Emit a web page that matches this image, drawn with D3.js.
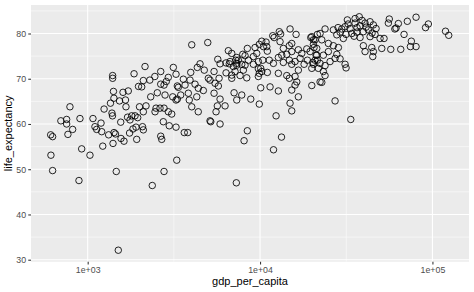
<!DOCTYPE html>
<html>
<head>
<meta charset="utf-8">
<script src="https://cdn.jsdelivr.net/npm/d3@7"></script>
<style>
  body { margin: 0; background: #fff; }
  svg { display: block; font-family: "Liberation Sans", Arial, sans-serif; }
</style>
</head>
<body>
<script>
'use strict';

// values, one entry per country-year
const gdpPerCapita = [
  610, 626, 612, 626, 699, 755, 755, 768, 789, 818,
  902, 923, 890, 1031, 1073, 1102, 1127, 1195, 1206, 1223,
  1245, 1323, 1356, 1383, 1393, 1396, 1396, 1411, 1420, 1403,
  1422, 1450, 1465, 1505, 1530, 1555, 1560, 1603, 1624, 1657,
  1668, 1720, 1703, 1760, 1750, 1800, 1831, 1858, 1882, 1907,
  1925, 1950, 1972, 1998, 2081, 2103,
  4015, 4973, 2151, 6548, 3139, 2653, 4486, 4326, 4746, 5685,
  5861, 6350, 6629, 7228, 7326, 2453, 2293, 2103, 3255, 2936,
  3589, 3962, 3925, 5409, 5012, 5127, 5784, 6350, 6853, 2653,
  2773, 3312, 3357, 3671, 4196, 4385, 4688, 5482, 5729, 2058,
  2535, 2810, 2321, 3115, 3255, 3312, 3466, 3836, 4293, 3884,
  5409, 5861, 7068, 7326, 2180, 2492, 2459, 2628, 2773, 2936,
  3073, 4015, 5652, 5556, 6266, 2103, 2746, 2973, 3255, 3633,
  3807, 5127, 5176, 5861, 2653, 2689, 2370, 2773, 3286, 7285,
  8440, 8077, 11970, 13320, 12385, 15270, 16680, 2858,
  14930, 16180, 12930, 11850, 12070, 13060, 19690, 20390, 21500, 10230,
  10840, 10450, 10940, 9898, 11025, 8440, 9355, 9570, 9144, 8185,
  7939, 7326, 7483, 6853, 13650, 14780, 15270, 15270, 14290, 13360,
  12770, 16680, 17460, 17070, 18670, 19510, 20570, 21130, 18820, 20230,
  21500, 18010, 15960, 15270, 14790, 13650, 11950, 11310, 10370, 9776,
  9144, 8554, 8185, 7832, 7326, 7000, 6699, 8000, 7161, 6853,
  7656, 8373, 9776, 10090, 10230, 9898, 9776, 11025, 12770, 14290,
  14790, 15960, 16680, 16330, 15960, 15270, 14930, 19960, 22300, 7832,
  8832, 9898, 10090, 11430, 12770, 13170, 4380,
  37640, 32100, 35580, 31130, 29790, 33280, 38040, 40660, 43470, 45430,
  47100, 42490, 39750, 36400, 34050, 31550, 29120, 27870, 26630, 23830,
  22300, 30430, 38040, 43470, 46470, 22810, 20850, 19960, 24900, 26630,
  28470, 20390, 21330, 39750, 44470, 45430, 40660, 50820, 49680, 45080,
  24900, 23300, 27870, 27240, 29120, 25480, 21330, 20850, 22300, 20390,
  23830, 21790, 19960, 31130, 31550, 23300, 23830, 22810, 27240, 33590,
  35580, 41210, 36540, 39070, 32410, 28360, 44640, 35110,
  56200, 55500, 63430, 61520, 60540, 71520, 80350, 94700, 91220, 119100,
  124300, 68460, 75460, 74500, 80350, 65500, 57310, 52400
];

const lifeExpectancy = [
  57.6, 57.2, 53.1, 49.7, 60.7, 61.0, 60.0, 57.7, 63.8, 58.8,
  61.2, 54.5, 47.5, 53.1, 61.2, 59.4, 58.8, 60.2, 58.3, 55.1,
  63.3, 57.6, 64.6, 62.4, 61.8, 70.7, 70.1, 67.2, 65.7, 55.7,
  58.1, 57.8, 49.5, 32.1, 65.1, 60.4, 56.8, 67.0, 56.2, 65.3,
  63.8, 67.3, 61.5, 60.9, 58.0, 61.8, 58.9, 71.1, 61.8, 59.3,
  56.6, 61.4, 68.3, 63.8, 59.4, 58.7,
  77.5, 78.0, 72.7, 76.2, 72.5, 71.6, 73.3, 72.5, 71.9, 74.3,
  73.3, 73.5, 73.3, 74.1, 73.4, 70.5, 69.7, 69.6, 71.0, 70.3,
  69.9, 71.4, 69.7, 71.6, 70.1, 69.7, 70.1, 71.3, 70.1, 68.8,
  68.6, 68.4, 68.1, 68.6, 68.8, 67.9, 67.4, 69.0, 68.4, 68.2,
  66.9, 66.4, 66.0, 66.0, 65.3, 65.5, 66.4, 66.8, 66.0, 65.3,
  66.8, 65.5, 66.9, 65.3, 64.0, 63.5, 62.7, 63.5, 63.5, 62.7,
  62.2, 63.8, 64.0, 62.7, 64.0, 62.7, 60.5, 59.6, 59.3, 58.1,
  58.1, 60.7, 60.5, 60.0, 57.3, 56.6, 46.4, 49.5, 52.0, 47.0,
  58.5, 56.3, 54.3, 57.1, 61.8, 62.9, 66.0, 69.4,
  81.0, 79.8, 80.4, 79.5, 79.1, 78.2, 79.1, 78.6, 79.8, 78.3,
  78.1, 77.1, 77.1, 77.6, 76.1, 76.7, 76.9, 75.6, 74.9, 75.1,
  75.4, 74.7, 74.1, 75.6, 76.7, 77.3, 77.8, 76.0, 75.4, 75.2,
  74.7, 76.4, 75.6, 74.5, 76.6, 76.0, 76.9, 75.2, 74.1, 73.6,
  74.1, 73.2, 73.8, 73.2, 74.1, 73.6, 73.4, 74.1, 74.1, 73.8,
  73.2, 74.1, 73.0, 73.2, 73.0, 72.7, 73.8, 71.9, 71.6, 70.8,
  70.7, 70.2, 72.2, 72.3, 71.6, 71.2, 70.5, 71.4, 71.2, 70.7,
  70.1, 70.5, 71.9, 69.3, 68.6, 67.5, 64.6, 68.5, 69.3, 66.4,
  65.5, 64.4, 68.0, 68.2, 67.3, 79.9, 62.7,
  83.7, 83.0, 82.3, 81.5, 81.0, 81.1, 81.7, 82.3, 82.6, 81.9,
  81.1, 80.8, 80.4, 80.3, 80.0, 79.8, 80.3, 79.7, 80.8, 81.0,
  80.0, 78.9, 79.1, 79.3, 79.8, 78.6, 78.6, 79.3, 77.8, 77.3,
  76.9, 77.6, 76.7, 77.3, 76.9, 76.0, 76.0, 76.7, 78.9, 74.9,
  76.0, 75.2, 75.4, 74.5, 74.4, 73.8, 75.2, 74.1, 73.4, 73.2,
  72.9, 72.3, 72.3, 73.2, 72.4, 71.6, 70.7, 69.2, 65.1, 61.0,
  83.3, 81.4, 81.3, 82.9, 82.1, 81.3, 80.1, 79.4,
  83.2, 82.3, 82.2, 81.2, 81.0, 82.7, 83.6, 82.1, 81.3, 80.5,
  79.6, 79.8, 78.3, 77.1, 77.1, 76.5, 76.5, 78.9
];

const xTicks = [1e3, 1e4, 1e5];
const yTicks = [30, 40, 50, 60, 70, 80];
const yMinorTicks = [35, 45, 55, 65, 75, 85];

const width = 474;
const height = 292;
const panel = { left: 31, right: 469, top: 5, bottom: 261.7 };

const svg = d3.select('body')
  .append('svg')
  .attr('width', width)
  .attr('height', height);

const x = d3.scaleLog()
  .domain([469, 163000])
  .range([panel.left, panel.right]);

const y = d3.scaleLinear()
  .domain([29.56, 86.3])
  .range([panel.bottom, panel.top]);

// minor breaks sit half way between majors on the log axis
const xMinorTicks = d3.pairs(xTicks).map(p => Math.sqrt(p[0] * p[1]));

svg.append('rect')
  .attr('x', panel.left)
  .attr('y', panel.top)
  .attr('width', panel.right - panel.left)
  .attr('height', panel.bottom - panel.top)
  .attr('fill', '#ebebeb');

const grid = svg.append('g').attr('stroke', '#fff');

grid.selectAll('.ymin')
  .data(yMinorTicks).enter()
  .append('line')
    .attr('x1', panel.left).attr('x2', panel.right)
    .attr('y1', d => y(d)).attr('y2', d => y(d))
    .attr('stroke-width', 0.53);

grid.selectAll('.xmin')
  .data(xMinorTicks).enter()
  .append('line')
    .attr('y1', panel.top).attr('y2', panel.bottom)
    .attr('x1', d => x(d)).attr('x2', d => x(d))
    .attr('stroke-width', 0.53);

grid.selectAll('.ymaj')
  .data(yTicks).enter()
  .append('line')
    .attr('x1', panel.left).attr('x2', panel.right)
    .attr('y1', d => y(d)).attr('y2', d => y(d))
    .attr('stroke-width', 1.07);

grid.selectAll('.xmaj')
  .data(xTicks).enter()
  .append('line')
    .attr('y1', panel.top).attr('y2', panel.bottom)
    .attr('x1', d => x(d)).attr('x2', d => x(d))
    .attr('stroke-width', 1.07);

svg.append('g')
  .selectAll('circle')
  .data(d3.zip(gdpPerCapita, lifeExpectancy))
  .enter()
  .append('circle')
    .attr('cx', d => x(d[0]))
    .attr('cy', d => y(d[1]))
    .attr('r', 3.25)
    .attr('fill', 'none')
    .attr('stroke', '#000')
    .attr('stroke-width', 0.85);

const sci = d => d.toExponential().replace(/e([+-])(\d)$/, 'e$10$2');

const xAxis = d3.axisBottom(x)
  .tickValues(xTicks)
  .tickFormat(sci)
  .tickSize(2.75)
  .tickPadding(2.0);

const gx = svg.append('g')
  .attr('transform', `translate(0, ${panel.bottom})`)
  .call(xAxis);

const yAxis = d3.axisLeft(y)
  .tickValues(yTicks)
  .tickSize(2.75)
  .tickPadding(2.2);

const gy = svg.append('g')
  .attr('transform', `translate(${panel.left}, 0)`)
  .call(yAxis);

[gx, gy].forEach(g => {
  g.select('.domain').remove();
  g.selectAll('.tick line').attr('stroke', '#333333').attr('stroke-width', 1.07);
  g.selectAll('.tick text')
    .attr('fill', '#4d4d4d')
    .style('font-size', '8.8px')
    .style('font-family', '"Liberation Sans", Arial, sans-serif');
});

svg.append('text')
  .attr('x', (panel.left + panel.right) / 2)
  .attr('y', 284.6)
  .attr('text-anchor', 'middle')
  .style('font-size', '11px')
  .text('gdp_per_capita');

svg.append('text')
  .attr('transform', `translate(11.5, ${(panel.top + panel.bottom) / 2}) rotate(-90)`)
  .attr('text-anchor', 'middle')
  .style('font-size', '11px')
  .text('life_expectancy');
</script>
</body>
</html>
